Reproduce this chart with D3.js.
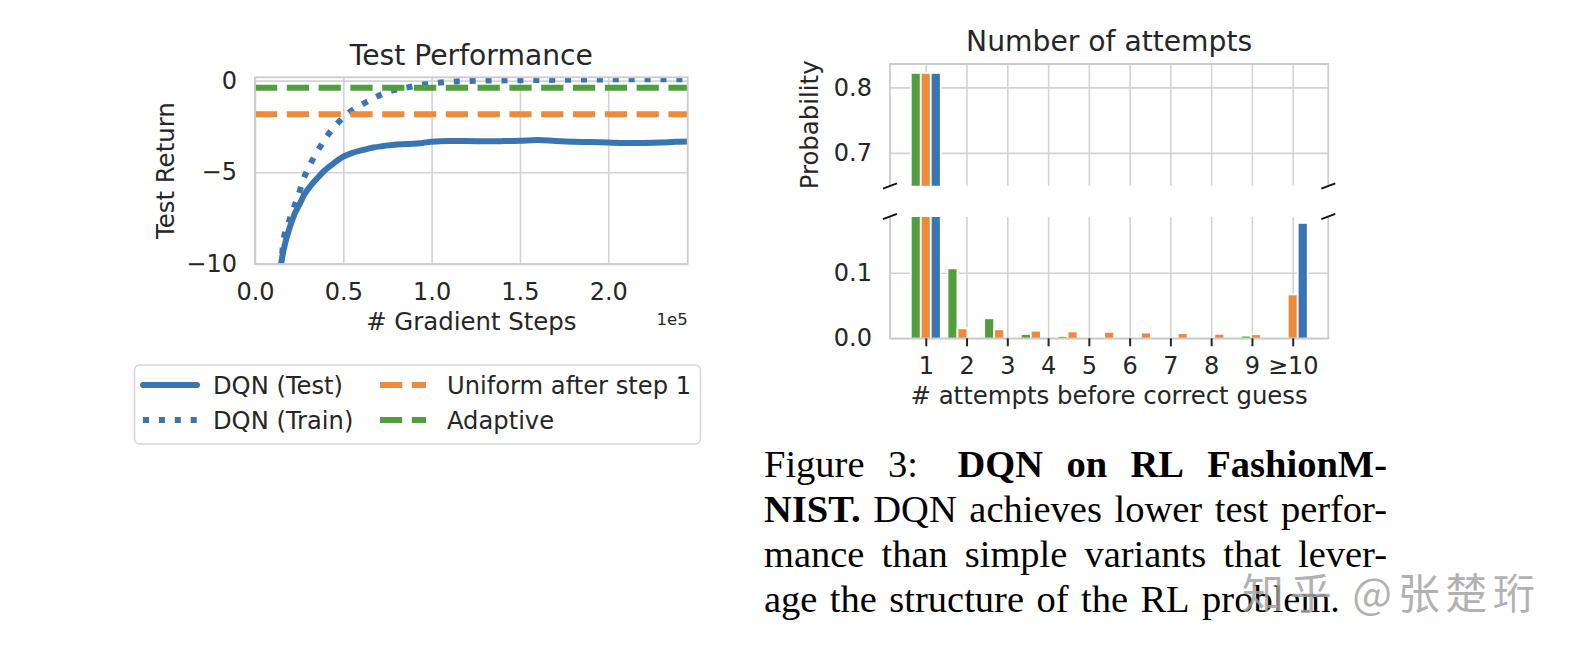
<!DOCTYPE html>
<html><head><meta charset="utf-8">
<script src="https://cdn.jsdelivr.net/npm/d3@7"></script>
<style>html,body{margin:0;padding:0;background:#fff;} svg{display:block;}</style>
</head><body><svg id="c" width="1576" height="658"></svg>
<script>
// ---------------- DATA ----------------
// Left panel: Test Performance (x in units of 1e5 gradient steps)
const testSteps  = [0.145,0.151,0.17,0.198,0.225,0.255,0.28,0.311,0.35,0.387,0.44,0.5,0.55,0.613,0.67,0.726,0.8,0.858,0.95,1.0,1.1,1.2,1.3,1.4,1.5,1.6,1.7,1.8,1.9,2.0,2.1,2.2,2.3,2.38,2.45];
const testReturn = [-10.2,-9.8,-8.9,-7.97,-7.25,-6.69,-6.2,-5.78,-5.35,-4.97,-4.55,-4.15,-3.95,-3.78,-3.65,-3.57,-3.48,-3.46,-3.40,-3.33,-3.30,-3.30,-3.31,-3.30,-3.28,-3.24,-3.29,-3.33,-3.35,-3.38,-3.40,-3.40,-3.38,-3.34,-3.32];
const trainSteps  = [0.145,0.151,0.16,0.185,0.213,0.245,0.273,0.311,0.358,0.405,0.462,0.528,0.594,0.67,0.755,0.84,0.95,1.05,1.15,1.3,1.5,1.7,1.9,2.1,2.3,2.45];
const trainReturn = [-10.3,-9.8,-8.78,-7.9,-7.1,-6.27,-5.42,-4.6,-3.78,-3.06,-2.38,-1.78,-1.37,-0.97,-0.6,-0.42,-0.22,-0.1,-0.04,0.0,0.02,0.04,0.06,0.07,0.08,0.08];
const uniformReturn  = -1.84;
const adaptiveReturn = -0.39;
const leftXTicks = [0, 0.5, 1.0, 1.5, 2.0];
const leftXTickLabels = ["0.0","0.5","1.0","1.5","2.0"];
const leftYTicks = [0, -5, -10];
const leftYTickLabels = ["0","\u22125","\u221210"];
const legendLabels = ["DQN (Test)","DQN (Train)","Uniform after step 1","Adaptive"];

// Right panel: Number of attempts (11 bar groups; 10 ticks spread over them as in the original)
const attemptGroups = [0,1,2,3,4,5,6,7,8,9,10];
const probAdaptive = [0.822,0.1067,0.0305,0.0066,0.0035,0.0003,0.001,0.0005,0.001,0.004,0];
const probUniform  = [0.822,0.0152,0.0137,0.0116,0.0105,0.0098,0.0088,0.0078,0.0068,0.0062,0.067];
const probDQN      = [0.822,0,0,0,0,0,0,0,0,0,0.176];
const attemptTickLabels = ["1","2","3","4","5","6","7","8","9","\u226510"];
const upperYTicks = [0.7, 0.8];
const lowerYTicks = [0.0, 0.1];

// ---------------- STYLE ----------------
const C_BLUE = "#3a75b3", C_ORANGE = "#ef8a3a", C_GREEN = "#519e3f";
const TXT = "#262626", GRID = "#d3d3d3", SPINE = "#cccccc";
const FONT = "DejaVu Sans";
const FS = 24, FS_LABEL = 24.4, FS_TITLE = 28.2;
const LW = 6;

const svg = d3.select("#c");
const defs = svg.append("defs");

function styleAxisText(g){
  g.attr("font-family", FONT).attr("font-size", FS);
  g.selectAll("text").attr("fill", TXT);
  g.select(".domain").remove();
}

// ================= LEFT PANEL =================
const L = {x0:255, x1:687.7, y0:77.3, y1:264};
const xL = d3.scaleLinear().domain([0, 2.45]).range([L.x0, L.x1]);
const yL = d3.scaleLinear().domain([-10, 0.18]).range([L.y1, L.y0]);

defs.append("clipPath").attr("id","clipL").append("rect")
  .attr("x",L.x0).attr("y",L.y0).attr("width",L.x1-L.x0).attr("height",L.y1-L.y0);

svg.append("g").attr("transform",`translate(0,${L.y1})`)
  .call(d3.axisBottom(xL).tickValues(leftXTicks).tickSize(-(L.y1-L.y0)).tickFormat(""))
  .call(g=>{g.select(".domain").remove(); g.selectAll("line").attr("stroke",GRID).attr("stroke-width",1.6);});
svg.append("g").attr("transform",`translate(${L.x0},0)`)
  .call(d3.axisLeft(yL).tickValues(leftYTicks).tickSize(-(L.x1-L.x0)).tickFormat(""))
  .call(g=>{g.select(".domain").remove(); g.selectAll("line").attr("stroke",GRID).attr("stroke-width",1.6);});

svg.append("g").attr("transform",`translate(0,${L.y1})`)
  .call(d3.axisBottom(xL).tickValues(leftXTicks).tickSize(0).tickPadding(19).tickFormat((d,i)=>leftXTickLabels[i]))
  .call(g=>styleAxisText(g));
svg.append("g").attr("transform",`translate(${L.x0},0)`)
  .call(d3.axisLeft(yL).tickValues(leftYTicks).tickSize(0).tickPadding(18).tickFormat((d,i)=>leftYTickLabels[i]))
  .call(g=>styleAxisText(g));

const plotL = svg.append("g").attr("clip-path","url(#clipL)");
const lineGen = d3.line().x(d=>xL(d[0])).y(d=>yL(d[1])).curve(d3.curveMonotoneX);
plotL.append("path").datum(testSteps.map((s,i)=>[s,testReturn[i]]))
  .attr("d",lineGen).attr("fill","none").attr("stroke",C_BLUE).attr("stroke-width",LW)
  .attr("stroke-linejoin","round").attr("stroke-linecap","round");
plotL.append("path").datum(trainSteps.map((s,i)=>[s,trainReturn[i]]))
  .attr("d",lineGen).attr("fill","none").attr("stroke",C_BLUE).attr("stroke-width",LW)
  .attr("stroke-dasharray",`${LW},${LW*1.65}`).attr("stroke-linecap","butt");
plotL.append("line").attr("x1",xL(0)).attr("x2",xL(2.45)).attr("y1",yL(uniformReturn)).attr("y2",yL(uniformReturn))
  .attr("stroke",C_ORANGE).attr("stroke-width",LW).attr("stroke-dasharray",`${LW*3.7},${LW*1.6}`);
plotL.append("line").attr("x1",xL(0)).attr("x2",xL(2.45)).attr("y1",yL(adaptiveReturn)).attr("y2",yL(adaptiveReturn))
  .attr("stroke",C_GREEN).attr("stroke-width",LW).attr("stroke-dasharray",`${LW*3.7},${LW*1.6}`);

svg.append("rect").attr("x",L.x0).attr("y",L.y0).attr("width",L.x1-L.x0).attr("height",L.y1-L.y0)
  .attr("fill","none").attr("stroke",SPINE).attr("stroke-width",1.8);

svg.append("text").attr("x",(L.x0+L.x1)/2).attr("y",65).attr("text-anchor","middle")
  .attr("font-family",FONT).attr("font-size",FS_TITLE).attr("fill",TXT).text("Test Performance");
svg.append("text").attr("x",(L.x0+L.x1)/2).attr("y",330).attr("text-anchor","middle")
  .attr("font-family",FONT).attr("font-size",FS_LABEL).attr("fill",TXT).text("# Gradient Steps");
svg.append("text").attr("x",L.x1).attr("y",325).attr("text-anchor","end")
  .attr("font-family",FONT).attr("font-size",16.5).attr("fill",TXT).text("1e5");
svg.append("text").attr("transform",`translate(173.5,${(L.y0+L.y1)/2}) rotate(-90)`).attr("text-anchor","middle")
  .attr("font-family",FONT).attr("font-size",FS_LABEL).attr("fill",TXT).text("Test Return");

// legend
const lg = svg.append("g");
lg.append("rect").attr("x",134.5).attr("y",365).attr("width",566).attr("height",79).attr("rx",5)
  .attr("fill","#fff").attr("stroke","#d6d6d6").attr("stroke-width",1.5);
const legendItems = [
  {col:0,row:0,color:C_BLUE,dash:null,cap:"round"},
  {col:0,row:1,color:C_BLUE,dash:`${LW},${LW*1.65}`,cap:"butt"},
  {col:1,row:0,color:C_ORANGE,dash:`${LW*3.7},${LW*1.6}`,cap:"butt"},
  {col:1,row:1,color:C_GREEN,dash:`${LW*3.7},${LW*1.6}`,cap:"butt"}
];
const colX = [[143,197,213],[380,426,447]];
const rowY = [385,420];
legendItems.forEach((it,i)=>{
  const cx = colX[it.col], ry = rowY[it.row];
  const ln = lg.append("line").attr("x1",cx[0]).attr("x2",cx[1]).attr("y1",ry).attr("y2",ry)
    .attr("stroke",it.color).attr("stroke-width",LW).attr("stroke-linecap",it.cap);
  if(it.dash) ln.attr("stroke-dasharray",it.dash);
  lg.append("text").attr("x",cx[2]).attr("y",ry+8.7).attr("font-family",FONT).attr("font-size",24.2)
    .attr("fill",TXT).text(legendLabels[i]);
});

// ================= RIGHT PANEL =================
const R = {x0:890, x1:1328.3, uy0:64, uy1:185.7, ly0:217, ly1:338.3};
const xR = d3.scaleLinear().domain([-0.975, 10.97]).range([R.x0, R.x1]);
const yU = d3.scaleLinear().domain([0.65, 0.8356]).range([R.uy1, R.uy0]);
const yLo = d3.scaleLinear().domain([0, 0.185]).range([R.ly1, R.ly0]);
const attemptTickPos = attemptTickLabels.map((d,i)=> i*10/9);

defs.append("clipPath").attr("id","clipU").append("rect")
  .attr("x",R.x0).attr("y",R.uy0).attr("width",R.x1-R.x0).attr("height",R.uy1-R.uy0);
defs.append("clipPath").attr("id","clipLo").append("rect")
  .attr("x",R.x0).attr("y",R.ly0).attr("width",R.x1-R.x0).attr("height",R.ly1-R.ly0);

function gridPanel(yScale, yTicks, top, bottom){
  svg.append("g").attr("transform",`translate(0,${bottom})`)
    .call(d3.axisBottom(xR).tickValues(attemptTickPos).tickSize(-(bottom-top)).tickFormat(""))
    .call(g=>{g.select(".domain").remove(); g.selectAll("line").attr("stroke",GRID).attr("stroke-width",1.6);});
  svg.append("g").attr("transform",`translate(${R.x0},0)`)
    .call(d3.axisLeft(yScale).tickValues(yTicks).tickSize(-(R.x1-R.x0)).tickFormat(""))
    .call(g=>{g.select(".domain").remove(); g.selectAll("line").attr("stroke",GRID).attr("stroke-width",1.6);});
  svg.append("g").attr("transform",`translate(${R.x0},0)`)
    .call(d3.axisLeft(yScale).tickValues(yTicks).tickSize(0).tickPadding(18).tickFormat(d3.format(".1f")))
    .call(g=>styleAxisText(g));
}
gridPanel(yU, upperYTicks, R.uy0, R.uy1);
gridPanel(yLo, lowerYTicks, R.ly0, R.ly1);

const series = [
  {vals:probAdaptive, color:C_GREEN, off:-1},
  {vals:probUniform,  color:C_ORANGE, off:0},
  {vals:probDQN,      color:C_BLUE, off:1}
];
const bw = 0.2725;
function drawBars(yScale, clip){
  const g = svg.append("g").attr("clip-path",`url(#${clip})`);
  series.forEach(s=>{
    g.selectAll(null).data(attemptGroups.filter(i=>s.vals[i]>0)).enter().append("rect")
      .attr("x", i=>xR(i + s.off*bw - bw/2))
      .attr("width", xR(bw)-xR(0))
      .attr("y", i=>yScale(s.vals[i]))
      .attr("height", i=>yScale(yScale.domain()[0]) - yScale(s.vals[i]) + 20)
      .attr("fill", s.color).attr("stroke","#fff").attr("stroke-width",1.8);
  });
}
drawBars(yU,"clipU");
drawBars(yLo,"clipLo");

const sp = svg.append("g").attr("stroke",SPINE).attr("stroke-width",1.8).attr("fill","none");
sp.append("path").attr("d",`M${R.x0},${R.uy1}V${R.uy0}H${R.x1}V${R.uy1}`);
sp.append("path").attr("d",`M${R.x0},${R.ly0}V${R.ly1}H${R.x1}V${R.ly0}`);

svg.append("g").attr("transform",`translate(0,${R.ly1})`)
  .call(d3.axisBottom(xR).tickValues(attemptTickPos).tickSize(8).tickPadding(11).tickFormat((d,i)=>attemptTickLabels[i]))
  .call(g=>{styleAxisText(g); g.selectAll("line").attr("stroke",TXT).attr("stroke-width",2);});

const bk = svg.append("g").attr("stroke","#111").attr("stroke-width",1.8);
[[R.x0,186],[R.x0,216.5],[R.x1,186],[R.x1,216.5]].forEach(p=>{
  bk.append("line").attr("x1",p[0]-7).attr("y1",p[1]+2.7).attr("x2",p[0]+7).attr("y2",p[1]-2.7);
});

svg.append("text").attr("x",(R.x0+R.x1)/2).attr("y",51).attr("text-anchor","middle")
  .attr("font-family",FONT).attr("font-size",FS_TITLE).attr("fill",TXT).text("Number of attempts");
svg.append("text").attr("x",(R.x0+R.x1)/2).attr("y",404).attr("text-anchor","middle")
  .attr("font-family",FONT).attr("font-size",FS_LABEL).attr("fill",TXT).text("# attempts before correct guess");
svg.append("text").attr("transform",`translate(818,${(R.uy0+R.uy1)/2}) rotate(-90)`).attr("text-anchor","middle")
  .attr("font-family",FONT).attr("font-size",FS_LABEL).attr("fill",TXT).text("Probability");

// ================= CAPTION =================
const captionLines = [
  {y:477, w:623, words:[["Figure",0],["3:",0],["DQN",1],["on",1],["RL",1],["FashionM-",1]], wide:1},
  {y:522, w:623, words:[["NIST.",1],["DQN",0],["achieves",0],["lower",0],["test",0],["perfor-",0]]},
  {y:567, w:623, words:[["mance",0],["than",0],["simple",0],["variants",0],["that",0],["lever-",0]]},
  {y:612, w:576, words:[["age",0],["the",0],["structure",0],["of",0],["the",0],["RL",0],["problem.",0]]}
];
const CAP_X = 764, CAP_FS = 38.5;
const cap = svg.append("g").attr("font-family","Liberation Serif").attr("font-size",CAP_FS).attr("fill","#000");
captionLines.forEach(line=>{
  const nodes = line.words.map(w=>cap.append("text").attr("y",line.y).attr("font-weight",w[1]?"bold":"normal").text(w[0]));
  const widths = nodes.map(n=>n.node().getComputedTextLength());
  const total = d3.sum(widths);
  const weights = line.words.slice(1).map((w,i)=> (line.wide && i===line.wide) ? 1.7 : 1);
  const gap = (line.w - total)/d3.sum(weights);
  let x = CAP_X;
  nodes.forEach((n,i)=>{ n.attr("x",x); x += widths[i] + (i<weights.length ? gap*weights[i] : 0); });
});

// watermark
svg.append("text").attr("x",1242).attr("y",609).attr("font-family","Noto Sans CJK SC")
  .attr("font-size",42).attr("fill","#a3a3a3").attr("fill-opacity",0.85)
  .attr("textLength",293).attr("lengthAdjust","spacing").text("知乎 @张楚珩");
</script></body></html>
